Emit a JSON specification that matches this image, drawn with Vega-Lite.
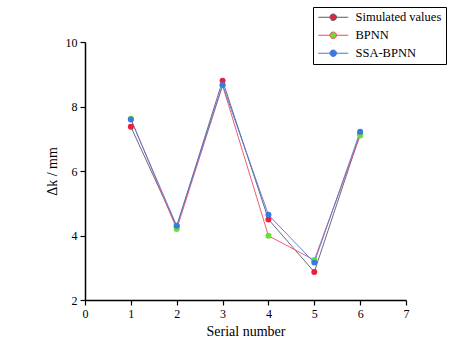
{
  "$schema": "https://vega.github.io/schema/vega-lite/v6.json",
  "width": 321,
  "height": 258,
  "autosize": {"type": "none"},
  "padding": {"left": 85, "top": 42, "right": 68, "bottom": 51},
  "config": {
    "view": {"stroke": null},
    "font": "Liberation Serif",
    "axis": {
      "grid": false,
      "domainColor": "black",
      "domainWidth": 1.5,
      "tickColor": "black",
      "tickWidth": 1.2,
      "tickSize": 5,
      "labelColor": "black",
      "labelFont": "Liberation Serif",
      "labelFontSize": 12,
      "labelPadding": 3,
      "titleColor": "black",
      "titleFont": "Liberation Serif",
      "titleFontSize": 14,
      "titleFontWeight": "normal",
      "labelFlush": false
    },
    "legend": {
      "orient": "none",
      "legendX": 228,
      "legendY": -35,
      "strokeColor": "black",
      "padding": 4,
      "labelFont": "Liberation Serif",
      "labelFontSize": 12.5,
      "labelColor": "black",
      "symbolType": "M-3,0L-0.65,0M0.65,0L3,0M0.65,0A0.65,0.65 0 1,1 -0.65,0A0.65,0.65 0 1,1 0.65,0Z",
      "symbolSize": 100,
      "symbolStrokeWidth": 1,
      "symbolOffset": 10,
      "labelOffset": 16,
      "rowPadding": 5
    }
  },
  "data": {
    "values": [
      {"n": 1, "series": "Simulated values", "v": 7.37},
      {"n": 2, "series": "Simulated values", "v": 4.28},
      {"n": 3, "series": "Simulated values", "v": 8.80},
      {"n": 4, "series": "Simulated values", "v": 4.50},
      {"n": 5, "series": "Simulated values", "v": 2.87},
      {"n": 6, "series": "Simulated values", "v": 7.15},
      {"n": 1, "series": "BPNN", "v": 7.62},
      {"n": 2, "series": "BPNN", "v": 4.20},
      {"n": 3, "series": "BPNN", "v": 8.65},
      {"n": 4, "series": "BPNN", "v": 3.99},
      {"n": 5, "series": "BPNN", "v": 3.24},
      {"n": 6, "series": "BPNN", "v": 7.10},
      {"n": 1, "series": "SSA-BPNN", "v": 7.60},
      {"n": 2, "series": "SSA-BPNN", "v": 4.30},
      {"n": 3, "series": "SSA-BPNN", "v": 8.67},
      {"n": 4, "series": "SSA-BPNN", "v": 4.64},
      {"n": 5, "series": "SSA-BPNN", "v": 3.16},
      {"n": 6, "series": "SSA-BPNN", "v": 7.22}
    ]
  },
  "layer": [
    {
      "mark": {"type": "line", "strokeWidth": 0.9},
      "encoding": {
        "x": {
          "field": "n",
          "type": "quantitative",
          "scale": {"domain": [0, 7]},
          "axis": {"values": [0, 1, 2, 3, 4, 5, 6, 7], "title": "Serial number", "titlePadding": 5}
        },
        "y": {
          "field": "v",
          "type": "quantitative",
          "scale": {"domain": [2, 10], "zero": false},
          "axis": {
            "values": [2, 3, 4, 5, 6, 7, 8, 9, 10],
            "labelExpr": "datum.value % 2 === 0 ? datum.label : ''",
            "title": "Δk / mm",
            "titlePadding": 6,
            "encode": {"ticks": {"update": {"x2": {"signal": "datum.value % 2 === 0 ? -5 : -3"}}}}
          }
        },
        "stroke": {
          "field": "series",
          "type": "nominal",
          "sort": ["Simulated values", "BPNN", "SSA-BPNN"],
          "scale": {"domain": ["Simulated values", "BPNN", "SSA-BPNN"], "range": ["#5a5870", "#f04a60", "#4a78d8"]},
          "legend": {"title": null}
        }
      }
    },
    {
      "mark": {"type": "point", "filled": true, "size": 36, "opacity": 1},
      "encoding": {
        "x": {"field": "n", "type": "quantitative"},
        "y": {"field": "v", "type": "quantitative"},
        "fill": {
          "field": "series",
          "type": "nominal",
          "sort": ["Simulated values", "BPNN", "SSA-BPNN"],
          "scale": {"domain": ["Simulated values", "BPNN", "SSA-BPNN"], "range": ["#e8203c", "#66e032", "#3a7ae0"]},
          "legend": {"title": null}
        }
      }
    }
  ]
}
